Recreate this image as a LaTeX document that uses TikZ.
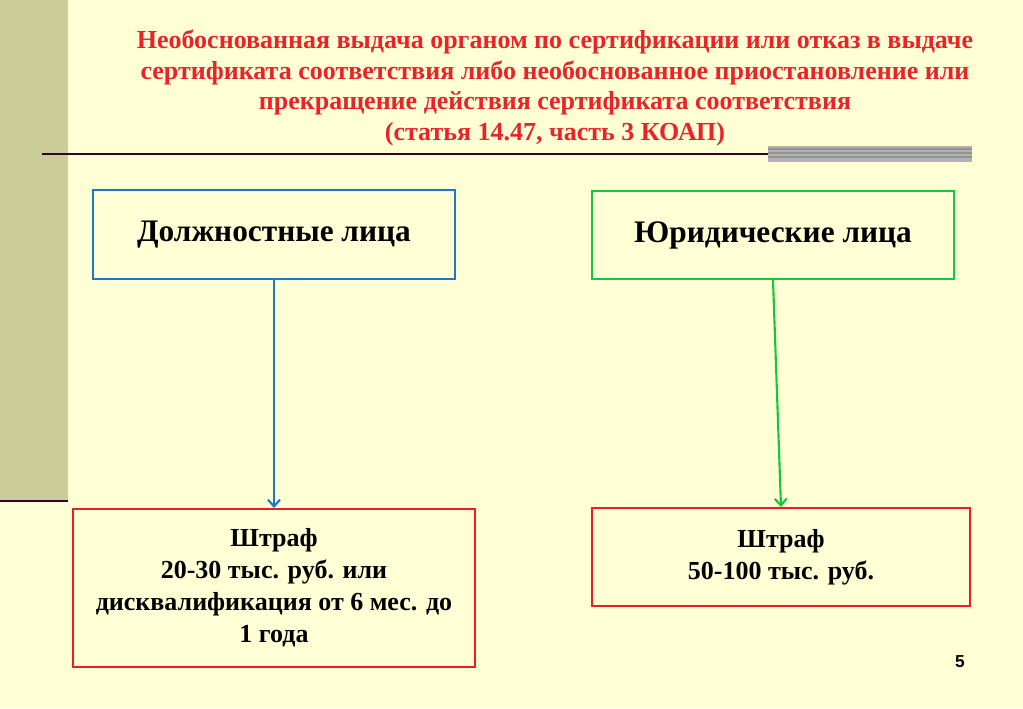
\documentclass[tikz,border=0pt]{standalone}
\usepackage{fontspec}
\setmainfont{Liberation Serif}
\newfontfamily\numfont{Liberation Sans}
\usetikzlibrary{arrows.meta}
\definecolor{bg}{HTML}{FFFFD5}
\definecolor{stripe}{HTML}{CCCC99}
\definecolor{dline}{HTML}{330033}
\definecolor{ttl}{HTML}{E8242A}
\definecolor{bblue}{HTML}{1E78C8}
\definecolor{bgreen}{HTML}{14C83C}
\definecolor{bred}{HTML}{EE1C24}
\tikzset{
 box/.style={draw, line width=1.6pt, fill=bg, inner sep=0pt},
 head/.style={font=\bfseries\fontsize{23.5}{26}\selectfont},
 body/.style={font=\bfseries\fontsize{19.5}{24}\selectfont, align=center},
 conn/.style={line width=1.6pt, -{Straight Barb[length=5pt,width=9pt]}}
}
\begin{document}
\begin{tikzpicture}[x=0.75pt,y=-0.75pt]
\fill[bg] (0,0) rectangle (1023,708);
\useasboundingbox (0,0) rectangle (1023,708);
\fill[stripe] (0,0) rectangle (68,500);
\draw[dline, line width=2pt] (0,501) -- (68,501);
\draw[dline, line width=1.5pt] (42,154) -- (972,154);
\fill[gray!60] (768,146) rectangle (972,162);
\foreach \y in {149,153,157} \draw[gray!85, line width=1pt] (768,\y) -- (972,\y);
\node[ttl, font=\bfseries\fontsize{19.5}{23}\selectfont, align=center] (title) at (555,88)
 {Необоснованная выдача органом по сертификации или отказ в выдаче\\
  сертификата соответствия либо необоснованное приостановление или\\
  прекращение действия сертификата соответствия\\
  (статья 14.47, часть 3 КОАП)};
\node[box, draw=bblue, minimum width=362*0.75pt, minimum height=89*0.75pt, head] (dl) at (274,234.5) {Должностные лица};
\node[box, draw=bgreen, minimum width=362*0.75pt, minimum height=88*0.75pt, head] (ul) at (773,235) {Юридические лица};
\node[box, draw=bred, minimum width=402*0.75pt, minimum height=158*0.75pt, body] (f1) at (274,588)
 {Штраф\\20-30 тыс. руб. или\\дисквалификация от 6 мес. до\\1 года};
\node[box, draw=bred, minimum width=378*0.75pt, minimum height=98*0.75pt, body] (f2) at (781,557)
 {Штраф\\50-100 тыс. руб.};
\draw[conn, bblue] (dl.south) -- (f1.north);
\draw[conn, bgreen] (ul.south) -- (f2.north);
\node[font=\numfont\bfseries\fontsize{13}{15}\selectfont] (pg) at (960,662) {5};
\end{tikzpicture}
\end{document}
